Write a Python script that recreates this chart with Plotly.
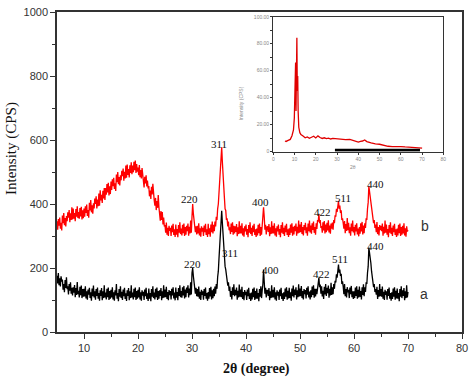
import plotly.graph_objects as go

# ---- main pattern data (2θ grid from 5 to 70, step 0.125; one row per degree) ----
theta_start = 5.0
theta_step = 0.125

intensity_a = [
    176, 152, 184, 146, 168, 142, 174, 158,   # 5
    164, 132, 150, 124, 162, 138, 171, 134,   # 6
    143, 117, 150, 129, 155, 120, 138, 114,   # 7
    140, 123, 147, 109, 137, 116, 156, 118,   # 8
    129, 108, 141, 115, 145, 106, 134, 110,   # 9
    135, 111, 143, 105, 127, 101, 133, 117,   # 10
    138, 106, 124, 98, 136, 112, 145, 108,    # 11
    127, 101, 134, 113, 139, 104, 122, 98,    # 12
    130, 113, 137, 99, 127, 106, 146, 108,    # 13
    123, 102, 135, 109, 139, 100, 128, 104,   # 14
    132, 108, 140, 102, 124, 98, 130, 114,    # 15
    150, 104, 122, 96, 134, 110, 143, 106,    # 16
    126, 100, 133, 112, 138, 103, 121, 97,    # 17
    130, 113, 137, 99, 127, 106, 146, 108,    # 18
    123, 102, 135, 109, 139, 100, 128, 104,   # 19
    132, 108, 140, 102, 124, 98, 130, 114,    # 20
    126, 100, 133, 112, 138, 103, 121, 97,    # 21
    136, 104, 122, 96, 134, 110, 143, 106,    # 22
    123, 102, 135, 109, 139, 100, 128, 104,   # 23
    130, 113, 137, 99, 127, 106, 146, 108,    # 24
    133, 109, 141, 103, 125, 99, 131, 115,    # 25
    128, 102, 135, 114, 140, 105, 123, 99,    # 26
    139, 107, 125, 99, 137, 113, 146, 109,    # 27
    128, 107, 140, 114, 144, 105, 133, 109,   # 28
    139, 122, 146, 108, 136, 115, 155, 117,   # 29
    185, 200, 175, 150, 145, 120, 138, 112,   # 30
    134, 110, 142, 104, 126, 100, 132, 116,   # 31
    127, 101, 134, 113, 139, 104, 122, 98,    # 32
    125, 104, 137, 111, 141, 102, 130, 106,   # 33
    135, 112, 142, 120, 150, 135, 172, 190,   # 34
    230, 262, 310, 345, 379, 340, 300, 260,   # 35
    240, 205, 195, 170, 165, 145, 155, 128,   # 36
    142, 110, 128, 102, 140, 116, 149, 112,   # 37
    132, 115, 139, 101, 129, 108, 148, 110,   # 38
    133, 109, 141, 103, 125, 99, 131, 115,    # 39
    126, 100, 133, 112, 138, 103, 121, 97,    # 40
    123, 102, 135, 109, 139, 100, 128, 104,   # 41
    136, 104, 122, 96, 134, 110, 143, 106,    # 42
    130, 150, 195, 165, 120, 138, 108, 130,   # 43
    130, 113, 137, 99, 127, 106, 146, 108,    # 44
    132, 108, 140, 102, 124, 98, 130, 114,    # 45
    126, 100, 133, 112, 138, 103, 121, 97,    # 46
    124, 103, 136, 110, 140, 101, 129, 105,   # 47
    138, 106, 124, 98, 136, 112, 145, 108,    # 48
    133, 116, 140, 102, 130, 109, 149, 111,   # 49
    136, 112, 144, 106, 128, 102, 134, 118,   # 50
    131, 105, 138, 117, 143, 108, 126, 102,   # 51
    130, 109, 142, 116, 146, 107, 135, 111,   # 52
    135, 118, 145, 150, 170, 140, 148, 120,   # 53
    143, 111, 129, 103, 141, 117, 150, 113,   # 54
    138, 121, 145, 107, 135, 114, 154, 116,   # 55
    140, 118, 150, 135, 160, 155, 180, 170,   # 56
    200, 211, 185, 195, 175, 182, 150, 158,   # 57
    142, 118, 150, 112, 134, 108, 140, 124,   # 58
    132, 106, 139, 118, 144, 109, 127, 103,   # 59
    127, 106, 139, 113, 143, 104, 132, 108,   # 60
    142, 110, 128, 102, 140, 116, 149, 112,   # 61
    140, 125, 155, 150, 185, 205, 264, 250,   # 62
    240, 215, 190, 175, 165, 140, 150, 125,   # 63
    134, 117, 141, 103, 131, 110, 150, 112,   # 64
    134, 110, 142, 104, 126, 100, 132, 116,   # 65
    127, 101, 134, 113, 139, 104, 122, 98,    # 66
    124, 103, 136, 110, 140, 101, 129, 105,   # 67
    136, 104, 122, 96, 134, 110, 143, 106,    # 68
    130, 113, 137, 99, 127, 106, 146, 108,    # 69
    125,                                      # 70
]

intensity_b = [
    346, 320, 353, 332, 358, 323, 341, 317,   # 5
    364, 340, 372, 334, 356, 330, 362, 346,   # 6
    374, 357, 381, 343, 371, 350, 390, 352,   # 7
    386, 354, 372, 346, 384, 360, 393, 356,   # 8
    375, 354, 387, 361, 391, 352, 380, 356,   # 9
    386, 360, 393, 372, 398, 363, 381, 357,   # 10
    404, 380, 412, 374, 396, 370, 402, 386,   # 11
    417, 400, 424, 386, 414, 393, 433, 395,   # 12
    443, 411, 429, 403, 441, 417, 450, 413,   # 13
    450, 429, 462, 436, 466, 427, 455, 431,   # 14
    470, 444, 477, 456, 482, 447, 465, 441,   # 15
    492, 468, 500, 462, 484, 458, 490, 474,   # 16
    504, 487, 511, 473, 501, 480, 520, 482,   # 17
    523, 491, 509, 483, 521, 497, 530, 493,   # 18
    520, 499, 532, 506, 536, 497, 525, 501,   # 19
    514, 490, 522, 484, 506, 480, 512, 496,   # 20
    478, 452, 485, 464, 490, 455, 473, 449,   # 21
    456, 424, 442, 416, 454, 430, 463, 426,   # 22
    412, 395, 419, 381, 409, 388, 428, 390,   # 23
    370, 348, 378, 350, 375, 336, 358, 330,   # 24
    334, 310, 342, 304, 326, 300, 332, 316,   # 25
    326, 300, 333, 312, 338, 303, 321, 297,   # 26
    336, 304, 322, 296, 334, 310, 343, 306,   # 27
    323, 302, 335, 309, 339, 300, 328, 304,   # 28
    332, 315, 339, 301, 329, 308, 348, 310,   # 29
    360, 400, 370, 340, 335, 312, 330, 305,   # 30
    332, 308, 340, 302, 324, 298, 330, 314,   # 31
    326, 300, 333, 312, 338, 303, 321, 297,   # 32
    338, 306, 324, 298, 336, 312, 345, 308,   # 33
    335, 315, 345, 330, 360, 350, 385, 400,   # 34
    435, 470, 520, 550, 577, 530, 480, 440,   # 35
    420, 385, 380, 350, 355, 330, 345, 318,   # 36
    327, 306, 339, 313, 343, 304, 332, 308,   # 37
    330, 313, 337, 299, 327, 306, 346, 308,   # 38
    332, 308, 340, 302, 324, 298, 330, 314,   # 39
    336, 304, 322, 296, 334, 310, 343, 306,   # 40
    326, 300, 333, 312, 338, 303, 321, 297,   # 41
    323, 302, 335, 309, 339, 300, 328, 304,   # 42
    330, 350, 390, 360, 320, 335, 305, 328,   # 43
    330, 313, 337, 299, 327, 306, 346, 308,   # 44
    332, 308, 340, 302, 324, 298, 330, 314,   # 45
    336, 304, 322, 296, 334, 310, 343, 306,   # 46
    326, 300, 333, 312, 338, 303, 321, 297,   # 47
    324, 303, 336, 310, 340, 301, 329, 305,   # 48
    332, 315, 339, 301, 329, 308, 348, 310,   # 49
    336, 312, 344, 306, 328, 302, 334, 318,   # 50
    341, 309, 327, 301, 339, 315, 348, 311,   # 51
    333, 307, 340, 319, 345, 310, 328, 304,   # 52
    340, 322, 350, 345, 369, 340, 350, 325,   # 53
    331, 310, 343, 317, 347, 308, 336, 312,   # 54
    341, 317, 349, 311, 333, 307, 339, 323,   # 55
    342, 320, 350, 340, 365, 360, 385, 375,   # 56
    400, 410, 385, 395, 372, 380, 350, 355,   # 57
    340, 323, 347, 309, 337, 316, 356, 318,   # 58
    341, 309, 327, 301, 339, 315, 348, 311,   # 59
    328, 302, 335, 314, 340, 305, 323, 299,   # 60
    328, 307, 340, 314, 344, 305, 333, 309,   # 61
    340, 325, 355, 350, 385, 405, 456, 440,   # 62
    430, 405, 385, 375, 362, 340, 350, 325,   # 63
    336, 312, 344, 306, 328, 302, 334, 318,   # 64
    332, 315, 339, 301, 329, 308, 348, 310,   # 65
    336, 304, 322, 296, 334, 310, 343, 306,   # 66
    326, 300, 333, 312, 338, 303, 321, 297,   # 67
    323, 302, 335, 309, 339, 300, 328, 304,   # 68
    332, 308, 340, 302, 324, 298, 330, 314,   # 69
    318,                                      # 70
]

theta_a = [theta_start + theta_step * i for i in range(len(intensity_a))]
theta_b = [theta_start + theta_step * i for i in range(len(intensity_b))]

# peak labels (hkl) with positions
hkl_labels = ["220", "311", "400", "422", "511", "440"]
label_x_b = [29.6, 35.0, 42.7, 54.1, 58.0, 64.0]
label_y_b = [415, 589, 407, 376, 420, 461]
label_x_a = [30.0, 37.0, 44.6, 53.9, 57.4, 64.0]
label_y_a = [212, 246, 195, 182, 229, 270]

series_names = ["a", "b"]

# ---- inset data ----
inset_x = [5.5, 6, 7, 8, 8.8, 9.5, 9.9, 10.2, 10.5, 10.7, 10.9, 11.1, 11.3, 11.5, 11.7,
           12.0, 12.5, 13, 14, 15, 16, 17, 18, 19, 20, 21, 22, 23, 24, 25, 26, 27, 28,
           29, 30, 32, 34, 36, 38, 40, 41, 42, 43, 44, 46, 48, 50, 52, 54, 56, 58, 60,
           62, 64, 66, 68, 70]
inset_y = [7.8, 7.5, 8.3, 9.0, 11.7, 16, 24.8, 40, 66, 30, 58, 84.4, 45, 56, 30,
           18, 14, 12.6, 11.5, 10.2, 10.8, 9.8, 10.6, 11.4, 10.1, 11.6, 10.4, 9.7, 10.2,
           9.6, 9.9, 9.3, 9.7, 9.5, 9.2, 9.0, 8.8, 9.0, 8.2, 7.0, 7.6, 7.8, 8.6, 7.4,
           6.4, 5.6, 5.4, 4.6, 3.9, 3.7, 3.9, 3.7, 3.4, 3.2, 3.0, 2.9, 2.5]
inset_bar_x = [29, 69]
inset_bar_y = [1, 1]

fig = go.Figure()
fig.add_trace(go.Scatter(x=theta_a, y=intensity_a, mode="lines",
                         line=dict(color="#000000", width=1.3), name=series_names[0]))
fig.add_trace(go.Scatter(x=theta_b, y=intensity_b, mode="lines",
                         line=dict(color="#ff0000", width=1.3), name=series_names[1]))
fig.add_trace(go.Scatter(x=inset_x, y=inset_y, mode="lines", xaxis="x2", yaxis="y2",
                         line=dict(color="#e00000", width=1.3)))
fig.add_trace(go.Scatter(x=inset_bar_x, y=inset_bar_y, mode="lines", xaxis="x2", yaxis="y2",
                         line=dict(color="#000000", width=3)))

serif = "Liberation Serif, Times New Roman, serif"
sans = "Liberation Sans, Arial, sans-serif"

ann = []
for t, x, y in zip(hkl_labels, label_x_b, label_y_b):
    ann.append(dict(x=x, y=y, xref="x", yref="y", text=t, showarrow=False,
                    font=dict(family=serif, size=11, color="#111")))
for t, x, y in zip(hkl_labels, label_x_a, label_y_a):
    ann.append(dict(x=x, y=y, xref="x", yref="y", text=t, showarrow=False,
                    font=dict(family=serif, size=11, color="#111")))
ann.append(dict(x=73.2, y=331, xref="x", yref="y", text=series_names[1], showarrow=False,
                font=dict(family=sans, size=14, color="#333")))
ann.append(dict(x=73.0, y=119, xref="x", yref="y", text=series_names[0], showarrow=False,
                font=dict(family=sans, size=14, color="#333")))
# axis titles
ann.append(dict(x=-0.112, y=0.574, xref="paper", yref="paper", text="Intensity (CPS)",
                showarrow=False, textangle=-90, xanchor="center", yanchor="middle",
                font=dict(family=serif, size=15, color="#111")))
ann.append(dict(x=0.493, y=-0.116, xref="paper", yref="paper", text="<b>2θ (degree)</b>",
                showarrow=False, xanchor="center", yanchor="middle",
                font=dict(family=serif, size=14, color="#111")))
# inset titles
ann.append(dict(x=0.455, y=0.775, xref="paper", yref="paper", text="Intensity (CPS)",
                showarrow=False, textangle=-90, font=dict(family=sans, size=5, color="#888")))
ann.append(dict(x=0.744, y=0.517, xref="paper", yref="paper", text="2θ",
                showarrow=False, font=dict(family=sans, size=5, color="#888")))

fig.update_layout(
    width=474, height=380,
    margin=dict(l=57, r=7, t=6, b=48),
    paper_bgcolor="white", plot_bgcolor="white",
    showlegend=False,
    annotations=ann,
    xaxis=dict(range=[5, 80], tickvals=[10, 20, 30, 40, 50, 60, 70, 80],
               ticks="outside", ticklen=5, tickwidth=1.2, tickcolor="#333",
               minor=dict(tickvals=[15, 25, 35, 45, 55, 65, 75], ticks="outside",
                          ticklen=3, tickcolor="#333"),
               showline=True, linecolor="#333", linewidth=1.5, mirror=True,
               showgrid=False, zeroline=False,
               tickfont=dict(family=sans, size=11, color="#333")),
    yaxis=dict(range=[0, 1000], tickvals=[0, 200, 400, 600, 800, 1000],
               ticks="outside", ticklen=5, tickwidth=1.2, tickcolor="#333",
               minor=dict(tickvals=[100, 300, 500, 700, 900], ticks="outside",
                          ticklen=3, tickcolor="#333"),
               showline=True, linecolor="#333", linewidth=1.5, mirror=True,
               showgrid=False, zeroline=False,
               tickfont=dict(family=sans, size=11, color="#333")),
    xaxis2=dict(domain=[0.534, 0.954], anchor="y2", range=[0, 80],
                tickvals=[0, 10, 20, 30, 40, 50, 60, 70, 80],
                ticks="outside", ticklen=2, tickcolor="#333",
                showline=True, linecolor="#333", linewidth=1, mirror=True,
                showgrid=False, zeroline=False,
                tickfont=dict(family=sans, size=5, color="#888")),
    yaxis2=dict(domain=[0.564, 0.985], anchor="x2", range=[0, 100],
                tickvals=[0, 20, 40, 60, 80, 100],
                ticktext=["0", "20.00", "40.00", "60.00", "80.00", "100.00"],
                ticks="outside", ticklen=2, tickcolor="#333",
                minor=dict(tickvals=[10, 30, 50, 70, 90], ticks="outside", ticklen=2,
                           tickcolor="#333"),
                showline=True, linecolor="#333", linewidth=1.2, mirror=True,
                showgrid=False, zeroline=False,
                tickfont=dict(family=sans, size=5, color="#888")),
)

fig.write_html("out.html", config={"displayModeBar": False},
               post_script="document.body.style.margin='0';document.body.style.padding='0';")
